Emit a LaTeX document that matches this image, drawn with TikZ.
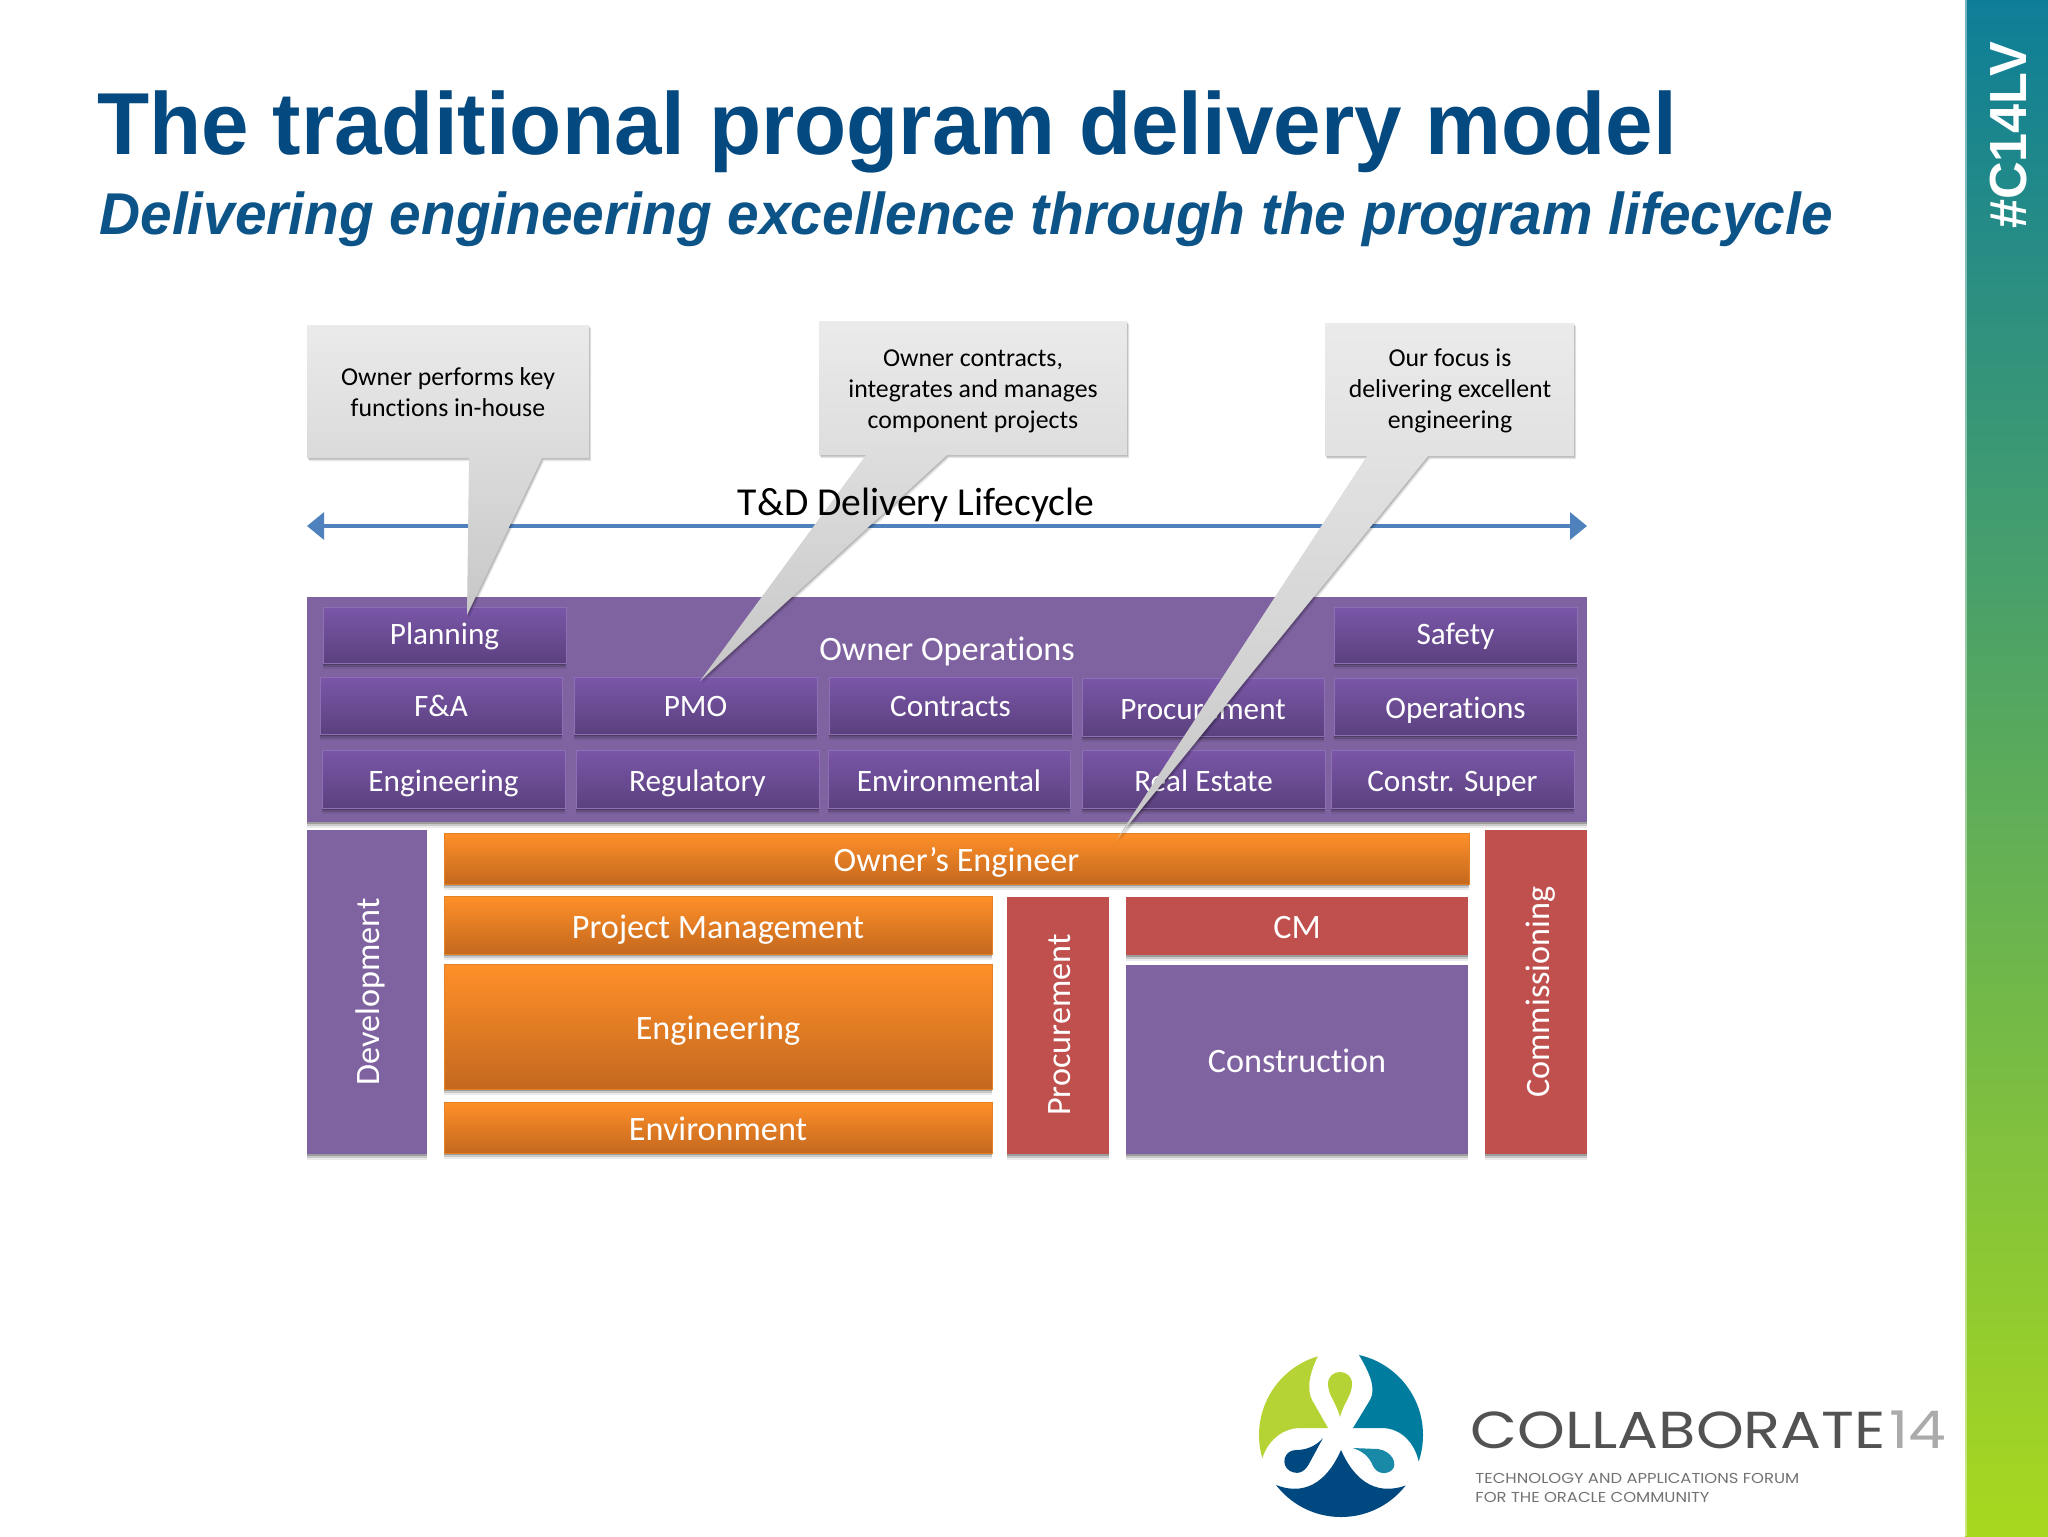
\documentclass[tikz,border=0pt]{standalone}
\usepackage{fontspec}
\setmainfont[Ligatures=CommonOff]{Carlito}
\newfontfamily\arialf{Liberation Sans}
\newfontfamily\popf{Poppins}
\usetikzlibrary{arrows.meta,shadows,calc}
\definecolor{titleblue}{HTML}{04497F}
\definecolor{subblue}{HTML}{0C5488}
\definecolor{panelpurple}{HTML}{7F63A1}
\definecolor{boxtop}{HTML}{7A56A8}
\definecolor{boxbot}{HTML}{5B417F}
\definecolor{ortop}{HTML}{FF9029}
\definecolor{orbot}{HTML}{C4681E}
\definecolor{redbox}{HTML}{C0504D}
\definecolor{lineblue}{HTML}{4F81BD}
\definecolor{logolime}{HTML}{B5D334}
\definecolor{logoteal}{HTML}{007C9E}
\definecolor{logonavy}{HTML}{004880}
\definecolor{bartop}{HTML}{0E7E98}
\definecolor{barmid}{HTML}{4FA565}
\definecolor{barbot}{HTML}{A8D81E}
\tikzset{
  softshadow/.style={
    drop shadow={shadow xshift=0pt,shadow yshift=-1pt,opacity=.22,fill=black},
    drop shadow={shadow xshift=0pt,shadow yshift=-2pt,opacity=.14,fill=black},
    drop shadow={shadow xshift=0pt,shadow yshift=-3.2pt,opacity=.08,fill=black}},
  boxbase/.style={inner sep=0pt,outer sep=0pt,text=white,font=\fontsize{15.6}{18}\selectfont,text height=15pt,text depth=3pt},
  purplebox/.style={boxbase,softshadow,draw=boxtop!85!white,line width=.4pt,top color=boxtop,bottom color=boxbot},
  rowone/.style={text depth=6pt},
  rowtwo/.style={text depth=4pt},
  orangebox/.style={boxbase,softshadow,draw=ortop!90!black,line width=.4pt,top color=ortop,bottom color=orbot,font=\fontsize{17.1}{20}\selectfont,text height=16pt},
  flatpurple/.style={boxbase,softshadow,fill=panelpurple,font=\fontsize{17.1}{20}\selectfont,text height=16pt},
  flatred/.style={boxbase,softshadow,fill=redbox,font=\fontsize{17.1}{20}\selectfont},
  calloutshape/.style={top color=black!8,middle color=black!14,bottom color=black!22,
    drop shadow={shadow xshift=.6pt,shadow yshift=-.8pt,opacity=.18,fill=black},
    drop shadow={shadow xshift=1pt,shadow yshift=-1.6pt,opacity=.1,fill=black}},
  callouttext/.style={align=center,inner sep=0pt,text=black,font=\fontsize{12.9}{15.5}\selectfont},
  plainlabel/.style={inner sep=0pt,text=white,font=\fontsize{17.1}{20}\selectfont},
}
% name, x1, y1, x2, y2, style, text
\newcommand{\rectbox}[7]{%
  \pgfmathsetmacro{\bw}{(#4-#2)/2}\pgfmathsetmacro{\bh}{(#5-#3)/2}%
  \node[#6,minimum width=\bw pt,minimum height=\bh pt] (#1) at ({(#2+#4)/2},{(#3+#5)/2}) {#7};}
% name, x1, y1, x2, y2, base1, base2, tipx, tipy
\newcommand{\callout}[9]{%
  \path[calloutshape] (#2,#3) -- (#4,#3) -- (#4,#5) -- (#7,#5) -- (#8,#9) -- (#6,#5) -- (#2,#5) -- cycle;
  \coordinate (#1) at ({(#2+#4)/2},{(#3+#5)/2});}
\begin{document}
\begin{tikzpicture}[x=0.5pt,y=-0.5pt]
\path[use as bounding box,fill=white] (0,0) rectangle (2048,1536);
% side bar
\shade[top color=bartop,middle color=barmid,bottom color=barbot] (1965,0) rectangle (2048,1536);
\fill[white,opacity=.4] (1964,0) rectangle (1967,1536);
\node[rotate=90,inner sep=0pt,text=white,font=\arialf\bfseries\fontsize{26.1}{26}\selectfont] (tag) at (2008,135) {\#C14LV};
% title
\node[anchor=base west,inner sep=0pt,xscale=.97,text=titleblue,font=\arialf\bfseries\fontsize{44}{44}\selectfont] (title) at (97,155) {The traditional program delivery model};
\node[anchor=base west,inner sep=0pt,xscale=.963,text=subblue,font=\arialf\bfseries\itshape\fontsize{29.5}{30}\selectfont] (subtitle) at (99,234) {Delivering engineering excellence through the program lifecycle};
% lifecycle
\coordinate (lifeL) at (307,526);
\coordinate (lifeR) at (1587,526);
\draw[lineblue,line width=1.6pt,{Triangle[length=8.5pt,width=13.5pt]}-{Triangle[length=8.5pt,width=13.5pt]}] (lifeL) -- (lifeR);
% owner panel
\rectbox{panel}{307}{597}{1587}{822}{boxbase,softshadow,fill=panelpurple}{}
\node[plainlabel] (ownerops) at (947,651) {Owner Operations};
\rectbox{planning}{323}{607}{566}{663}{purplebox,rowone}{Planning}
\rectbox{safety}{1334}{607}{1577}{663}{purplebox,rowone}{Safety}
\rectbox{fa}{320}{677}{562}{734}{purplebox,rowtwo}{F\&A}
\rectbox{pmo}{574}{677}{817}{734}{purplebox,rowtwo}{PMO}
\rectbox{contracts}{829}{677}{1072}{734}{purplebox,rowtwo}{Contracts}
\rectbox{procA}{1082}{678}{1324}{736}{purplebox}{Procurement}
\rectbox{operations}{1334}{678}{1577}{735}{purplebox}{Operations}
\rectbox{engA}{322}{750}{565}{808}{purplebox}{Engineering}
\rectbox{regulatory}{576}{750}{819}{808}{purplebox}{Regulatory}
\rectbox{environmental}{828}{750}{1070}{808}{purplebox}{Environmental}
\rectbox{realestate}{1082}{750}{1325}{808}{purplebox}{Real Estate}
\rectbox{constr}{1331}{750}{1574}{808}{purplebox}{Constr. Super}
% lower blocks
\rectbox{development}{307}{830}{427}{1154}{flatpurple}{}
\node[plainlabel,rotate=90] (devlabel) at (370,992) {Development};
\rectbox{ownereng}{444}{833}{1469}{884}{orangebox}{Owner’s Engineer}
\rectbox{pm}{444}{896}{992}{954}{orangebox}{Project Management}
\rectbox{engB}{444}{964}{992}{1089}{orangebox}{Engineering}
\rectbox{envB}{444}{1102}{992}{1153}{orangebox}{Environment}
\rectbox{procB}{1007}{897}{1109}{1154}{flatred}{}
\node[plainlabel,rotate=90] (proclabel) at (1060,1025) {Procurement};
\rectbox{cm}{1126}{897}{1468}{955}{flatred}{CM}
\rectbox{construction}{1126}{965}{1468}{1154}{flatpurple}{Construction}
\rectbox{commissioning}{1485}{830}{1587}{1154}{flatred}{}
\node[plainlabel,rotate=90] (commlabel) at (1541,992) {Commissioning};
% callouts
\callout{c1}{307}{325}{589}{458}{469}{542}{467}{615}
\node[callouttext] (c1t) at (448,392) {Owner performs key\\functions in-house};
\callout{c2}{819}{321}{1127}{455}{866}{947}{700}{681}
\node[callouttext] (c2t) at (973,391) {Owner contracts,\\integrates and manages\\component projects};
\callout{c3}{1325}{323}{1574}{456}{1367}{1428}{1117}{839}
\node[callouttext] (c3t) at (1450,391) {Our focus is\\delivering excellent\\engineering};
\node[inner sep=0pt,text=black,font=\fontsize{19.8}{22}\selectfont] (lifelabel) at (916,505) {T\&D Delivery Lifecycle};
% logo
\begin{scope}
\clip (1341,1435) circle [radius=82];
\fill[logolime] (1324,1345) .. controls (1312,1365) and (1305,1385) .. (1312,1400) -- (1328,1428) -- (1300,1428) .. controls (1280,1428) and (1262,1445) .. (1260,1470) -- (1245,1470) -- (1245,1345) -- cycle;
\fill[logoteal] (1353,1345) .. controls (1365,1365) and (1378,1385) .. (1370,1400) -- (1353,1428) -- (1382,1428) .. controls (1402,1428) and (1418,1445) .. (1420,1470) -- (1435,1470) -- (1435,1345) -- cycle;
\fill[logonavy] (1341,1450) .. controls (1330,1475) and (1310,1498) .. (1276,1485) -- (1250,1530) -- (1430,1530) -- (1407,1485) .. controls (1372,1498) and (1352,1475) .. (1341,1450) -- cycle;
\end{scope}
\fill[logolime] (1340,1417) .. controls (1336,1402) and (1328,1395) .. (1328,1384) .. controls (1328,1368) and (1352,1368) .. (1352,1384) .. controls (1352,1395) and (1344,1402) .. (1340,1417) -- cycle;
\fill[logonavy] (1323,1438) .. controls (1315,1447) and (1305,1450) .. (1296,1450) .. controls (1284,1450) and (1280,1465) .. (1290,1471) .. controls (1300,1476) and (1306,1470) .. (1310,1462) -- cycle;
\fill[logoteal!90!white] (1353,1448) -- (1378,1449) .. controls (1392,1451) and (1398,1464) .. (1392,1470) .. controls (1386,1475) and (1377,1474) .. (1373,1466) .. controls (1369,1456) and (1362,1451) .. (1353,1448) -- cycle;
\node[anchor=base west,inner sep=0pt,xscale=1.17,text=black!68,font=\popf\fontsize{26}{26}\selectfont] (collab) at (1470,1448) {COLLABORATE};
\node[anchor=base west,inner sep=0pt,xscale=1.15,text=black!33,font=\popf\fontsize{26}{26}\selectfont] (fourteen) at (1889,1448) {14};
\node[anchor=base west,inner sep=0pt,xscale=1.14,text=black!55,font=\popf\fontsize{7.2}{7.2}\selectfont] (tag1) at (1475,1483) {TECHNOLOGY AND APPLICATIONS FORUM};
\node[anchor=base west,inner sep=0pt,xscale=1.14,text=black!55,font=\popf\fontsize{7.2}{7.2}\selectfont] (tag2) at (1475,1502) {FOR THE ORACLE COMMUNITY};
\end{tikzpicture}
\end{document}
